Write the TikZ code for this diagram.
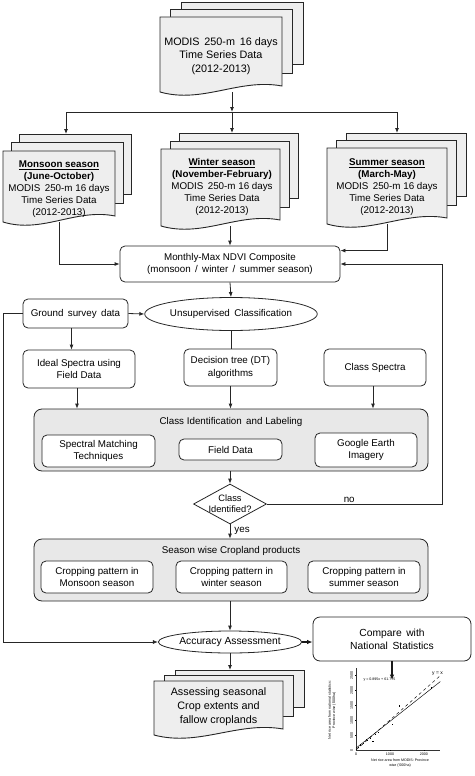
\documentclass[tikz,border=0pt]{standalone}
\usepackage{fontspec}
\setmainfont{Liberation Sans}
\setsansfont{Liberation Sans}
\usetikzlibrary{arrows.meta,shapes.geometric,calc}
\definecolor{docgray}{RGB}{238,238,238}
\definecolor{grpgray}{RGB}{232,232,232}
\newcommand{\docstack}[6]{%
  \filldraw[docst] ({#1+2*#5},{#2-2*#6}) rectangle ({#3+2*#5},{#4-28});
  \filldraw[docst] ({#1+#5},{#2-#6}) rectangle ({#3+#5},{#4-19});
  \filldraw[docst] (#1,#2) -- (#3,#2) -- (#3,{#4-6})
     .. controls ({#1+0.65*(#3-#1)},{#4-14}) and ({#1+0.35*(#3-#1)},{#4+12}) .. (#1,#4) -- cycle;
}
\begin{document}
\begin{tikzpicture}[x=1pt,y=-1pt,
  docst/.style={draw=black!85, line width=0.9pt, fill=docgray},
  ln/.style={draw=black!85, line width=0.8pt},
  arr/.style={draw=black!85, line width=0.8pt, -{Latex[length=5pt,width=4pt]}},
  thickarr/.style={draw=black!90, line width=1.3pt, -{Latex[length=5.5pt,width=4.5pt]}},
  rbox/.style={draw=black!85, line width=0.8pt, rounded corners=5pt, fill=white, align=center,
     inner sep=1pt, font=\fontsize{9.8}{12.5}\selectfont},
  grp/.style={draw=black!85, line width=0.8pt, rounded corners=8pt, fill=grpgray, inner sep=0pt},
  ell/.style={draw=black!85, line width=0.8pt, ellipse, fill=white, inner sep=0pt, align=center,
     font=\fontsize{9.8}{12}\selectfont},
  doctext/.style={align=center, inner sep=0pt, font=\fontsize{9.8}{12}\selectfont},
  lbl/.style={font=\fontsize{9.8}{12}\selectfont, inner sep=1pt},
  tiny/.style={font=\fontsize{3.6}{4.2}\selectfont, inner sep=0.5pt, align=center}
]
\useasboundingbox (0,0) rectangle (474,776);

% ---------- top data stack ----------
\docstack{160}{17}{282}{92}{10.5}{7.5}
\node[doctext, font=\fontsize{10.8}{13.5}\selectfont, minimum width=122pt, minimum height=72pt] (topdoc) at (221,56)
  {MODIS\, 250-m\, 16 days\\Time Series Data\\(2012-2013)};

\coordinate (j) at (232,112);
\coordinate (jL) at (66,112);
\coordinate (jR) at (397,112);
\coordinate (monsTop) at (66,134);
\coordinate (wintTop) at (232,133);
\coordinate (summTop) at (397,133);

% ---------- season stacks ----------
\docstack{3}{151}{115}{222}{8}{8.5}
\node[doctext, minimum width=112pt, minimum height=66pt] (mons) at (59,189)
  {\underline{\textbf{Monsoon season}}\\\textbf{(June-October)}\\MODIS\, 250-m 16 days\\Time Series Data\\(2012-2013)};
\docstack{161}{149}{280}{226}{9}{8}
\node[doctext, minimum width=119pt, minimum height=78pt] (wint) at (222,187)
  {\underline{\textbf{Winter season}}\\\textbf{(November-February)}\\MODIS\, 250-m 16 days\\Time Series Data\\(2012-2013)};
\docstack{327}{148}{447}{224}{9.5}{7.5}
\node[doctext, minimum width=120pt, minimum height=74pt] (summ) at (387,187)
  {\underline{\textbf{Summer season}}\\\textbf{(March-May)}\\MODIS\, 250-m 16 days\\Time Series Data\\(2012-2013)};

\draw[arr] (topdoc.south -| j) -- (j);
\draw[ln] (jL) -- (jR);
\draw[arr] (jL) -- (monsTop);
\draw[arr] (j) -- (wintTop);
\draw[arr] (jR) -- (summTop);

% ---------- NDVI ----------
\node[rbox, minimum width=220pt, minimum height=36pt] (ndvi) at (230,264)
  {Monthly-Max NDVI Composite\\(monsoon\, /\, winter\, /\, summer season)};
\draw[arr] (mons.south) |- (ndvi.west);
\draw[arr] (wint.south -| ndvi.north) -- (ndvi.north);
\draw[arr] (summ.south) |- ($(ndvi.north east)+(0,5)$);

% ---------- classification ----------
\node[ell, minimum width=168pt, minimum height=33pt] (unsup) at (231,314) {Unsupervised\, Classification};
\node[rbox, minimum width=105pt, minimum height=29pt] (ground) at (75.5,313.5) {Ground\, survey\, data};
\draw[arr] (ndvi.south) -- (unsup.north);
\draw[arr] (ground.east) -- (unsup.west);

\node[rbox, minimum width=112pt, minimum height=38pt] (ideal) at (79,369) {Ideal Spectra using\\Field Data};
\node[rbox, minimum width=93pt, minimum height=37pt] (dt) at (230.5,367.5) {Decision tree (DT)\\algorithms};
\node[rbox, minimum width=102pt, minimum height=37pt] (cspec) at (375,367.5) {Class Spectra};
\draw[arr] ([xshift=-4pt]ground.south) -- ([xshift=-4pt]ground.south |- ideal.north);
\draw[ln] (unsup.south) -- (unsup.south |- dt.north);

% ---------- class identification group ----------
\node[grp, minimum width=394pt, minimum height=62pt] (grp1) at (231,440) {};
\node[lbl] (grp1t) at (231,422) {Class Identification\, and Labeling};
\node[rbox, minimum width=113pt, minimum height=32pt] (smt) at (98.5,451) {Spectral Matching\\Techniques};
\node[rbox, minimum width=103pt, minimum height=21pt] (fd) at (230.5,449.5) {Field Data};
\node[rbox, minimum width=102pt, minimum height=34pt] (gei) at (366,450) {Google Earth\\Imagery};
\draw[arr] ([xshift=-2pt]ideal.south) -- ([xshift=-2pt]ideal.south |- grp1.north);
\draw[arr] (dt.south) -- (dt.south |- grp1.north);
\draw[arr] ([xshift=-2pt]cspec.south) -- ([xshift=-2pt]cspec.south |- grp1.north);

% ---------- decision ----------
\node[diamond, draw=black!85, line width=0.8pt, fill=white, minimum width=73pt, minimum height=40pt, inner sep=0pt] (diam) at (230,504) {};
\node[font=\fontsize{9.3}{11}\selectfont, align=center, inner sep=0pt] (diamT) at (diam.center) {Class\\Identified?};
\draw[arr] (grp1.south -| diam.north) -- (diam.north);
\coordinate (fbx) at (442,0);
\draw[arr] (diam.east) -- node[lbl, above, pos=0.47] {no} (diam.east -| fbx) |- (ndvi.east);

% ---------- season wise products ----------
\node[grp, minimum width=394pt, minimum height=62pt] (grp2) at (231,570) {};
\node[lbl] (grp2t) at (231,551) {Season wise Cropland products};
\node[rbox, minimum width=112pt, minimum height=32pt] (cp1) at (97,577) {Cropping pattern in\\Monsoon season};
\node[rbox, minimum width=111pt, minimum height=32pt] (cp2) at (231.5,577) {Cropping pattern in\\winter season};
\node[rbox, minimum width=112pt, minimum height=32pt] (cp3) at (364,577) {Cropping pattern in\\summer season};
\draw[arr] (diam.south) -- node[lbl, right, pos=0.45, xshift=3pt] {yes} (diam.south |- grp2.north);

% ---------- accuracy ----------
\node[ell, minimum width=124pt, minimum height=22pt, font=\fontsize{10.3}{12}\selectfont] (acc) at (230,642) {Accuracy Assessment};
\draw[arr] (grp2.south -| acc.north) -- (acc.north);
\coordinate (lx) at (3,0);
\draw[arr] (ground.west) -- (ground.west -| lx) |- (acc.west);

\node[rbox, minimum width=158pt, minimum height=44pt, rounded corners=7pt, font=\fontsize{10.3}{13}\selectfont] (cmp) at (392,639)
  {Compare\, with\\National\, Statistics};
\draw[thickarr] (acc.east) -- (acc.east -| cmp.west);

% ---------- assessing stack ----------
\coordinate (asTop) at (230,670);
\draw[arr] (acc.south) -- (asTop);
\docstack{154}{681}{283}{735}{10.5}{5.5}
\node[doctext, font=\fontsize{10.8}{14}\selectfont, minimum width=129pt, minimum height=56pt] (assess) at (218.5,707)
  {Assessing seasonal\\Crop extents and\\fallow croplands};

% ---------- chart ----------
\coordinate (chartTop) at (392,680);
\draw[thickarr] (cmp.south) -- (chartTop);
\draw[line width=0.5pt, black!80] (356,668) -- (356,750) -- (440,750);
\begin{scope}[shift={(356,750)}, x=0.034pt, y=0.03pt]
  \foreach \v in {1000,2000} {\draw[line width=0.3pt] (\v,0) -- (\v,-40);}
  \foreach \v in {500,1000,1500,2000,2500} {\draw[line width=0.3pt] (0,\v) -- (-40,\v);}
  \node[tiny] (xt0) at (0,-140) {0};
  \node[tiny] (xt1) at (1000,-140) {1000};
  \node[tiny] (xt2) at (2000,-140) {2000};
  \foreach \v in {0,500,1000,1500,2000,2500} {\node[tiny, rotate=90] at (-130,\v) {\v};}
  \draw[line width=0.45pt, dashed] (0,0) -- (2480,2480);
  \draw[line width=0.45pt] (0,62) -- (2480,2281);
  \foreach \px/\py in {60/70,120/150,200/210,280/330,330/290,420/370,480/260,560/500,640/560,1050/830,1250/1450,2200/2050}
    {\fill (\px,\py) rectangle ++(35,35);}
  \node[tiny, anchor=west] (eqn) at (200,2350) {y = 0.895x + 61.775};
  \node[tiny, font=\fontsize{5}{6}\selectfont] (yx) at (2400,2550) {y = x};
\end{scope}
\node[tiny, rotate=90] (ylab) at (332,710) {Net rice area from national statistics:\\Province wise ('000ha)};
\node[tiny] (xlab) at (400,763) {Net rice area from MODIS: Province\\wise ('000ha)};
\end{tikzpicture}
\end{document}
